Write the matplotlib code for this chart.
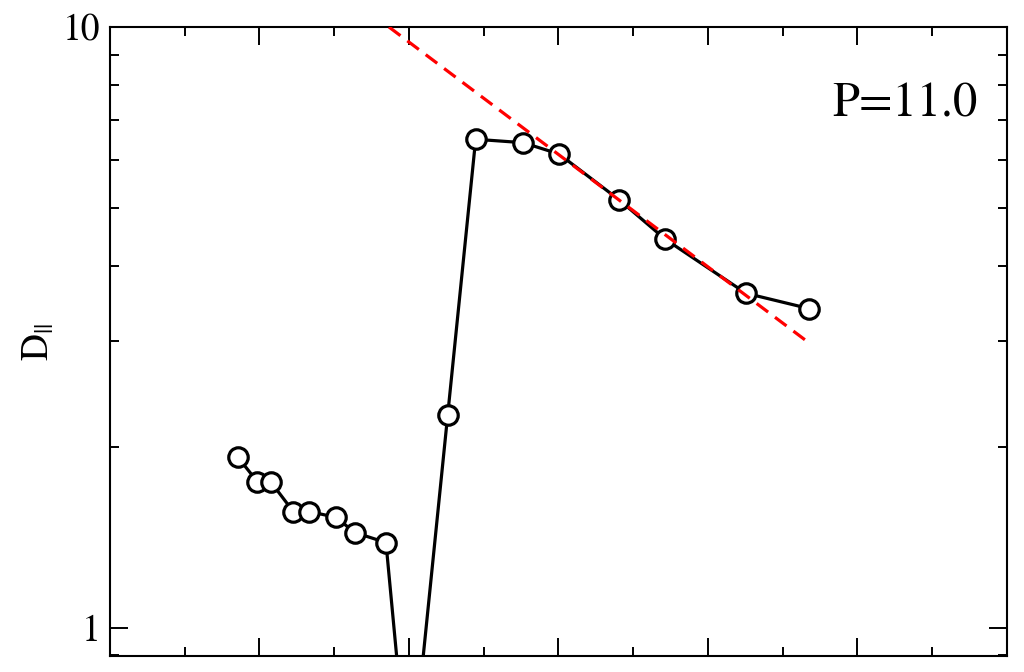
import matplotlib
matplotlib.use('Agg')
import matplotlib.pyplot as plt
from matplotlib.ticker import MultipleLocator, LogLocator, NullFormatter, FixedLocator, FixedFormatter

plt.rcParams['font.family'] = ['STIXGeneral', 'Liberation Serif', 'DejaVu Serif']
plt.rcParams['mathtext.fontset'] = 'stix'

# data
x = [0.856, 0.985, 1.077, 1.226, 1.333, 1.510, 1.639, 1.846, 2.003,
     2.259, 2.446, 2.763, 3.003, 3.407, 3.714, 4.254, 4.675]
d_par = [1.923, 1.752, 1.748, 1.562, 1.562, 1.528, 1.441, 1.387, 0.533,
         2.262, 6.504, 6.420, 6.148, 5.154, 4.435, 3.605, 3.400]

# fitted line (exponential, straight on the log axis)
fit_x = [1.866, 4.669]
fit_y = [10.0, 2.99]

fig = plt.figure(figsize=(10.24, 6.72), dpi=100)
ax = fig.add_axes([0.1074, 0.0238, 0.876, 0.936])

ax.plot(x, d_par, color='black', lw=2.3, marker='o', ms=14,
        mfc='white', mec='black', mew=2.3, zorder=2)
ax.plot(fit_x, fit_y, color='red', lw=2.3, ls=(0, (4.5, 2.7)), zorder=3)

ax.set_yscale('log')
ax.set_xlim(0, 6)
ax.set_ylim(0.898, 10)

ax.xaxis.set_major_locator(MultipleLocator(1))
ax.xaxis.set_minor_locator(MultipleLocator(0.5))
ax.set_xticklabels([])

ax.yaxis.set_major_locator(FixedLocator([1, 10]))
ax.yaxis.set_major_formatter(FixedFormatter(['1', '10']))
ax.yaxis.set_minor_locator(LogLocator(base=10, subs=range(2, 10)))
ax.yaxis.set_minor_formatter(NullFormatter())

ax.tick_params(which='both', direction='in', top=True, right=True, width=1.4)
ax.tick_params(which='major', length=13, labelsize=27, pad=7)
ax.tick_params(which='minor', length=6.5)
for s in ax.spines.values():
    s.set_linewidth(1.5)

ax.set_ylabel(r'D$_{||}$', fontsize=27, labelpad=4)

ax.text(0.9666, 0.8585, 'P=11.0', transform=ax.transAxes, fontsize=35,
        ha='right', va='baseline')

fig.savefig('out.png', dpi=100)
